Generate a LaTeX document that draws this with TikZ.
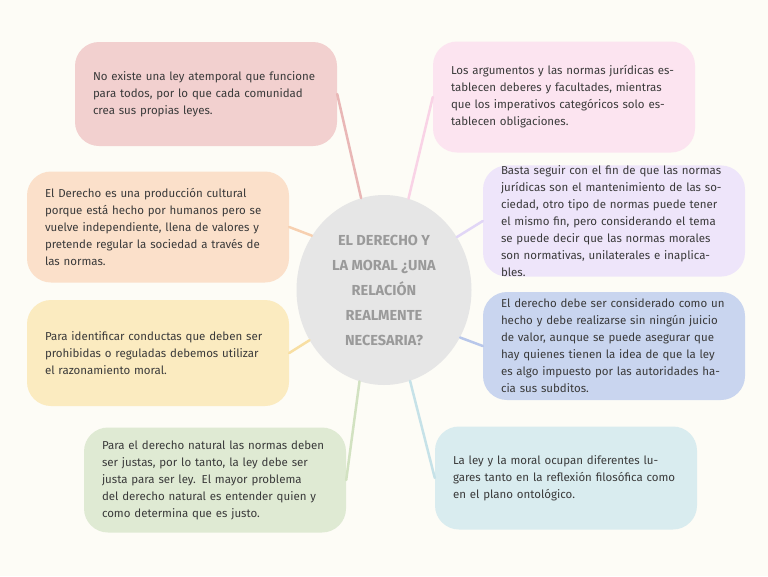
\documentclass[tikz,border=0pt]{standalone}
\usepackage{fontspec}
\setmainfont{Fira Sans}
\usetikzlibrary{shapes.geometric}
\definecolor{bg}{HTML}{FDFCF6}
\definecolor{c1}{HTML}{F2D0CF}\definecolor{l1}{HTML}{E9B7B6}
\definecolor{c2}{HTML}{FCE4F0}\definecolor{l2}{HTML}{F9D3E6}
\definecolor{c3}{HTML}{EEE5FA}\definecolor{l3}{HTML}{E1D6F6}
\definecolor{c4}{HTML}{C9D5EF}\definecolor{l4}{HTML}{B8C7EA}
\definecolor{c5}{HTML}{D9ECEF}\definecolor{l5}{HTML}{C6E2E8}
\definecolor{c6}{HTML}{DFEAD3}\definecolor{l6}{HTML}{D2E2C1}
\definecolor{c7}{HTML}{FBEBC0}\definecolor{l7}{HTML}{F8DFA3}
\definecolor{c8}{HTML}{FBE0CA}\definecolor{l8}{HTML}{F7D0B0}
\definecolor{cg}{HTML}{E6E6E6}\definecolor{tg}{HTML}{9A9A9A}
\definecolor{tx}{HTML}{3A3A3A}
\tikzset{
 box/.style={rounded corners=24pt, minimum width=262pt, text width=226pt, align=left,
   inner sep=0pt, text=tx, font=\fontsize{11.5}{17}\selectfont},
 conn/.style={line width=2.5pt, line cap=round},
}
\begin{document}
\begin{tikzpicture}[x=1pt,y=-1pt]
\fill[bg] (0,0) rectangle (768,576);
\useasboundingbox (0,0) rectangle (768,576);
\node[ellipse, fill=cg, minimum width=175pt, minimum height=190pt, inner sep=0pt,
  align=center, text=tg, font=\bfseries\fontsize{14.5}{25}\selectfont] (c) at (384,290)
  {EL DERECHO Y\\LA MORAL ¿UNA\\RELACIÓN\\REALMENTE\\NECESARIA?};
\node[box, fill=c1, minimum height=104pt] (b1) at (206,94) {No existe una ley atemporal que funcione para todos, por lo que cada comunidad crea sus propias leyes.};
\node[box, fill=c2, minimum height=111pt] (b2) at (564,97) {Los argumentos y las normas jurídicas establecen deberes y facultades, mientras que los imperativos categóricos solo establecen obligaciones.};
\node[box, fill=c3, minimum height=102pt] (b3) at (614,221) {Basta seguir con el fin de que las normas jurídicas son el mantenimiento de las sociedad, otro tipo de normas puede tener el mismo fin, pero considerando el tema se puede decir que las normas morales son normativas, unilaterales e inaplicables.};
\node[box, fill=c4, minimum height=108pt] (b4) at (614,346) {El derecho debe ser considerado como un hecho y debe realizarse sin ningún juicio de valor, aunque se puede asegurar que hay quienes tienen la idea de que la ley es algo impuesto por las autoridades hacia sus subditos.};
\node[box, fill=c5, minimum height=103pt] (b5) at (566,478) {La ley y la moral ocupan diferentes lugares tanto en la reflexión filosófica como en el plano ontológico.};
\node[box, fill=c6, minimum height=105pt] (b6) at (215,480) {Para el derecho natural las normas deben ser justas, por lo tanto, la ley debe ser justa para ser ley. El mayor problema del derecho natural es entender quien y como determina que es justo.};
\node[box, fill=c7, minimum height=106pt] (b7) at (158,353) {Para identificar conductas que deben ser prohibidas o reguladas debemos utilizar el razonamiento moral.};
\node[box, fill=c8, minimum height=111pt] (b8) at (158,227) {El Derecho es una producción cultural porque está hecho por humanos pero se vuelve independiente, llena de valores y pretende regular la sociedad a través de las normas.};
\draw[conn, l1] (b1.east) -- (c.104);
\draw[conn, l2] (b2.west) -- (c.75);
\draw[conn, l3] (b3.west) -- (c.36);
\draw[conn, l4] (b4.west) -- (c.-32);
\draw[conn, l5] (b5.west) -- (c.-74);
\draw[conn, l6] (b6.east) -- (c.-105);
\draw[conn, l7] (b7.east) -- (c.-146);
\draw[conn, l8] (b8.east) -- (c.143);
\end{tikzpicture}
\end{document}
